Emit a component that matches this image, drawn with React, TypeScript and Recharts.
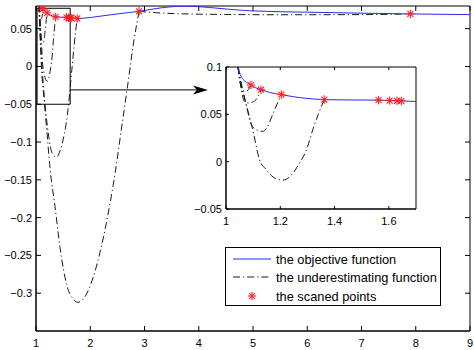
import React from 'react';
import {
  ComposedChart,
  Line,
  Scatter,
  XAxis,
  YAxis,
  ReferenceArea,
  ReferenceLine,
  Legend,
  CartesianGrid,
} from 'recharts';

type P = { x: number; y: number };

// objective function (blue)
const objectiveFunction: P[] = [
  { x: 1.04, y: 0.108 }, { x: 1.05, y: 0.094 }, { x: 1.06, y: 0.088 }, { x: 1.075, y: 0.084 },
  { x: 1.092, y: 0.081 }, { x: 1.11, y: 0.078 }, { x: 1.129, y: 0.076 }, { x: 1.16, y: 0.0732 },
  { x: 1.204, y: 0.0708 }, { x: 1.25, y: 0.0685 }, { x: 1.3, y: 0.0668 }, { x: 1.362, y: 0.0656 },
  { x: 1.45, y: 0.0652 }, { x: 1.562, y: 0.065 }, { x: 1.646, y: 0.0643 }, { x: 1.7, y: 0.0636 },
  { x: 1.76, y: 0.0635 }, { x: 1.9, y: 0.064 }, { x: 2.18, y: 0.0665 }, { x: 2.5, y: 0.0695 },
  { x: 2.9, y: 0.073 }, { x: 3.3, y: 0.0775 }, { x: 3.75, y: 0.0798 }, { x: 4.2, y: 0.078 },
  { x: 4.58, y: 0.0755 }, { x: 5.0, y: 0.0735 }, { x: 6.0, y: 0.0718 }, { x: 7.0, y: 0.0705 },
  { x: 7.9, y: 0.0695 }, { x: 9.0, y: 0.0686 },
];

// underestimating functions (dash-dot)
const under1: P[] = [
  { x: 1.044, y: 0.1 }, { x: 1.055, y: 0.08 }, { x: 1.07, y: 0.074 }, { x: 1.082, y: 0.076 }, { x: 1.092, y: 0.081 },
];
const under2: P[] = [
  { x: 1.044, y: 0.1 }, { x: 1.056, y: 0.077 }, { x: 1.067, y: 0.064 }, { x: 1.082, y: 0.062 },
  { x: 1.098, y: 0.063 }, { x: 1.117, y: 0.068 }, { x: 1.129, y: 0.076 },
];
const under3: P[] = [
  { x: 1.044, y: 0.1 }, { x: 1.06, y: 0.078 }, { x: 1.074, y: 0.061 }, { x: 1.092, y: 0.04 },
  { x: 1.11, y: 0.034 }, { x: 1.135, y: 0.032 }, { x: 1.153, y: 0.037 }, { x: 1.172, y: 0.05 },
  { x: 1.19, y: 0.062 }, { x: 1.204, y: 0.0708 },
];
const under4: P[] = [
  { x: 1.044, y: 0.1 }, { x: 1.055, y: 0.082 }, { x: 1.07, y: 0.065 }, { x: 1.086, y: 0.048 },
  { x: 1.1, y: 0.032 }, { x: 1.123, y: 0.0024 }, { x: 1.147, y: -0.008 }, { x: 1.184, y: -0.018 },
  { x: 1.21, y: -0.0195 }, { x: 1.223, y: -0.0184 }, { x: 1.248, y: -0.0115 }, { x: 1.272, y: -0.001 },
  { x: 1.297, y: 0.0128 }, { x: 1.32, y: 0.034 }, { x: 1.34, y: 0.05 }, { x: 1.362, y: 0.0656 },
];
const underBig: P[] = [
  { x: 1.044, y: 0.1 }, { x: 1.07, y: 0.05 }, { x: 1.1, y: 0.0 }, { x: 1.15, y: -0.045 },
  { x: 1.2, y: -0.085 }, { x: 1.26, y: -0.136 }, { x: 1.35, y: -0.185 }, { x: 1.44, y: -0.238 },
  { x: 1.57, y: -0.29 }, { x: 1.69, y: -0.308 }, { x: 1.77, y: -0.312 }, { x: 1.9, y: -0.305 },
  { x: 2.0, y: -0.29 }, { x: 2.18, y: -0.246 }, { x: 2.3, y: -0.206 }, { x: 2.46, y: -0.14 },
  { x: 2.58, y: -0.08 }, { x: 2.68, y: -0.03 }, { x: 2.8, y: 0.032 }, { x: 2.9, y: 0.073 },
];
const underMid: P[] = [
  { x: 1.044, y: 0.1 }, { x: 1.08, y: 0.04 }, { x: 1.12, y: -0.01 }, { x: 1.18, y: -0.06 },
  { x: 1.24, y: -0.095 }, { x: 1.3, y: -0.115 }, { x: 1.38, y: -0.12 }, { x: 1.45, y: -0.11 },
  { x: 1.5, y: -0.097 }, { x: 1.58, y: -0.063 }, { x: 1.66, y: -0.005 }, { x: 1.72, y: 0.04 },
  { x: 1.76, y: 0.0635 },
];
const underFlat: P[] = [
  { x: 2.9, y: 0.073 }, { x: 3.2, y: 0.0712 }, { x: 3.6, y: 0.0698 }, { x: 4.5, y: 0.0688 },
  { x: 5.5, y: 0.0684 }, { x: 6.5, y: 0.0685 }, { x: 7.3, y: 0.0688 }, { x: 7.9, y: 0.0695 },
];

// scanned points
const insetScanned: P[] = [
  { x: 1.092, y: 0.081 }, { x: 1.129, y: 0.076 }, { x: 1.204, y: 0.0708 }, { x: 1.362, y: 0.0656 },
  { x: 1.562, y: 0.065 }, { x: 1.603, y: 0.0645 }, { x: 1.63, y: 0.0643 }, { x: 1.646, y: 0.0642 },
];
const extraScanned: P[] = [
  { x: 1.76, y: 0.0635 }, { x: 2.9, y: 0.073 }, { x: 7.9, y: 0.0695 },
];

const mainXTicks = [1, 2, 3, 4, 5, 6, 7, 8, 9];
const mainYTicks = [-0.3, -0.25, -0.2, -0.15, -0.1, -0.05, 0, 0.05];
const insetXTicks = [1, 1.2, 1.4, 1.6];
const insetYTicks = [-0.05, 0, 0.05, 0.1];
const legendLabels = ['the objective function', 'the underestimating function', 'the scaned points'];

const FONT = '"Liberation Sans", Arial, Helvetica, sans-serif';
const BLUE = '#2a2af0';
const DASH = '#1a1a1a';
const RED = '#ff2020';
const DASHARRAY = '7 3 1.2 3';

const fmt = (v: number) => (v < 0 ? '\u2212' : '') + String(Math.abs(v));

// x-axis tick: inward tick at bottom, optional mirrored tick at top (plotH above)
const bottomTick = (len: number, plotH: number, mirror: boolean) => (props: any) => {
  const { x, y, payload } = props;
  return (
    <g>
      <line x1={x} x2={x} y1={y} y2={y - len} stroke="#000" strokeWidth={1} />
      {mirror && <line x1={x} x2={x} y1={y - plotH} y2={y - plotH + len} stroke="#000" strokeWidth={1} />}
      <text x={x} y={y + 8} dy="0.71em" textAnchor="middle" fontSize={11} fontFamily={FONT} fill="#000">
        {fmt(payload.value)}
      </text>
    </g>
  );
};
// y-axis tick: inward tick at left, optional mirrored tick at right (plotW to the right)
const leftTick = (len: number, plotW: number, mirror: boolean) => (props: any) => {
  const { x, y, payload } = props;
  return (
    <g>
      <line x1={x} x2={x + len} y1={y} y2={y} stroke="#000" strokeWidth={1} />
      {mirror && <line x1={x + plotW} x2={x + plotW - len} y1={y} y2={y} stroke="#000" strokeWidth={1} />}
      <text x={x - 4} y={y} dy="0.355em" textAnchor="end" fontSize={11} fontFamily={FONT} fill="#000">
        {fmt(payload.value)}
      </text>
    </g>
  );
};

const Star = (props: any) => {
  const { cx, cy } = props;
  if (cx == null || cy == null) return <g />;
  const r = 4.2;
  const d = r * 0.7071;
  return (
    <g stroke={RED} strokeWidth={1.1}>
      <line x1={cx - r} y1={cy} x2={cx + r} y2={cy} />
      <line x1={cx} y1={cy - r} x2={cx} y2={cy + r} />
      <line x1={cx - d} y1={cy - d} x2={cx + d} y2={cy + d} />
      <line x1={cx - d} y1={cy + d} x2={cx + d} y2={cy - d} />
    </g>
  );
};

const arrowShape = (p: any) => {
  const { x1, y1, x2, y2 } = p;
  return (
    <g>
      <line x1={x1} y1={y1} x2={x2 - 10} y2={y2} stroke="#000" strokeWidth={1} />
      <path d={`M${x2},${y2} L${x2 - 15},${y2 - 4.5} L${x2 - 11},${y2} L${x2 - 15},${y2 + 4.5} Z`} fill="#000" />
    </g>
  );
};

const LegendBox = () => (
  <svg width={216} height={59} style={{ display: 'block' }}>
    <rect x={0.5} y={0.5} width={215} height={58} fill="#fff" stroke="#000" strokeWidth={1} />
    <line x1={8} x2={46} y1={12} y2={12} stroke={BLUE} strokeWidth={1} />
    <line x1={8} x2={46} y1={30} y2={30} stroke={DASH} strokeWidth={1} strokeDasharray={DASHARRAY} />
    <Star cx={27} cy={49} />
    {legendLabels.map((t, i) => (
      <text key={t} x={51} y={[12, 30, 49][i]} dy="0.36em" fontSize={12.8} fontFamily={FONT} fill="#000">
        {t}
      </text>
    ))}
  </svg>
);

const dashLine = (data: P[], key: string) => (
  <Line
    key={key}
    data={data}
    dataKey="y"
    type="monotone"
    dot={false}
    activeDot={false}
    stroke={DASH}
    strokeWidth={1}
    strokeDasharray={DASHARRAY}
    isAnimationActive={false}
    legendType="none"
  />
);

export default function App() {
  return (
    <div style={{ position: 'absolute', left: 0, top: 0, width: 474, height: 350, background: '#fff', fontFamily: FONT }}>
      <ComposedChart width={474} height={350} margin={{ top: 6, right: 4, bottom: 0, left: 0 }}>
        <XAxis
          dataKey="x" type="number" domain={[1, 9]} ticks={mainXTicks} allowDataOverflow interval={0}
          height={19} tickSize={0} tickMargin={0} tickLine={false} tick={bottomTick(5, 325, true)}
          axisLine={{ stroke: '#000' }}
        />
        <YAxis
          type="number" domain={[-0.35, 0.08]} ticks={mainYTicks} allowDataOverflow interval={0}
          width={36} tickSize={0} tickMargin={0} tickLine={false} tick={leftTick(5, 434, true)}
          axisLine={{ stroke: '#000' }}
        />
        <ReferenceArea x1={1} x2={9} y1={-0.35} y2={0.08} fill="none" fillOpacity={0} stroke="#000" strokeWidth={1} />
        {dashLine(underBig, 'ub')}
        {dashLine(underMid, 'um')}
        {dashLine(under4, 'u4')}
        {dashLine(under3, 'u3')}
        {dashLine(under2, 'u2')}
        {dashLine(under1, 'u1')}
        {dashLine(underFlat, 'uf')}
        <Line
          data={objectiveFunction} dataKey="y" type="monotone" dot={false} activeDot={false}
          stroke={BLUE} strokeWidth={1} isAnimationActive={false}
        />
        <Scatter data={[...insetScanned, ...extraScanned]} dataKey="y" shape={Star} isAnimationActive={false} />
        <ReferenceArea x1={1.02} x2={1.63} y1={-0.05} y2={0.077} fill="none" fillOpacity={0} stroke="#000" strokeWidth={1} />
        <ReferenceLine segment={[{ x: 1.63, y: -0.031 }, { x: 4.17, y: -0.031 }]} shape={arrowShape} />
        <Legend
          layout="vertical" align="center" verticalAlign="middle"
          wrapperStyle={{ position: 'absolute', left: 225, top: 247, width: 216, height: 59 }}
          content={() => <LegendBox />}
        />
      </ComposedChart>

      <div style={{ position: 'absolute', left: 186, top: 60, width: 236, height: 170 }}>
        <ComposedChart width={236} height={170} margin={{ top: 7, right: 6, bottom: 0, left: 0 }}>
          <CartesianGrid fill="#fff" horizontal={false} vertical={false} stroke="none" />
          <XAxis
            dataKey="x" type="number" domain={[1, 1.7]} ticks={insetXTicks} allowDataOverflow interval={0}
            height={21} tickSize={0} tickMargin={0} tickLine={false} tick={bottomTick(3, 142, true)}
            axisLine={{ stroke: '#000' }}
          />
          <YAxis
            type="number" domain={[-0.05, 0.1]} ticks={insetYTicks} allowDataOverflow interval={0}
            width={40} tickSize={0} tickMargin={0} tickLine={false} tick={leftTick(3, 190, false)}
            axisLine={{ stroke: '#000' }}
          />
          <ReferenceArea x1={1} x2={1.7} y1={-0.05} y2={0.1} fill="none" fillOpacity={0} stroke="#000" strokeWidth={1} />
          {dashLine(under4, 'iu4')}
          {dashLine(under3, 'iu3')}
          {dashLine(under2, 'iu2')}
          {dashLine(under1, 'iu1')}
          <Line
            data={objectiveFunction} dataKey="y" type="monotone" dot={false} activeDot={false}
            stroke={BLUE} strokeWidth={1} isAnimationActive={false}
          />
          <Scatter data={insetScanned} dataKey="y" shape={Star} isAnimationActive={false} />
        </ComposedChart>
      </div>
    </div>
  );
}
